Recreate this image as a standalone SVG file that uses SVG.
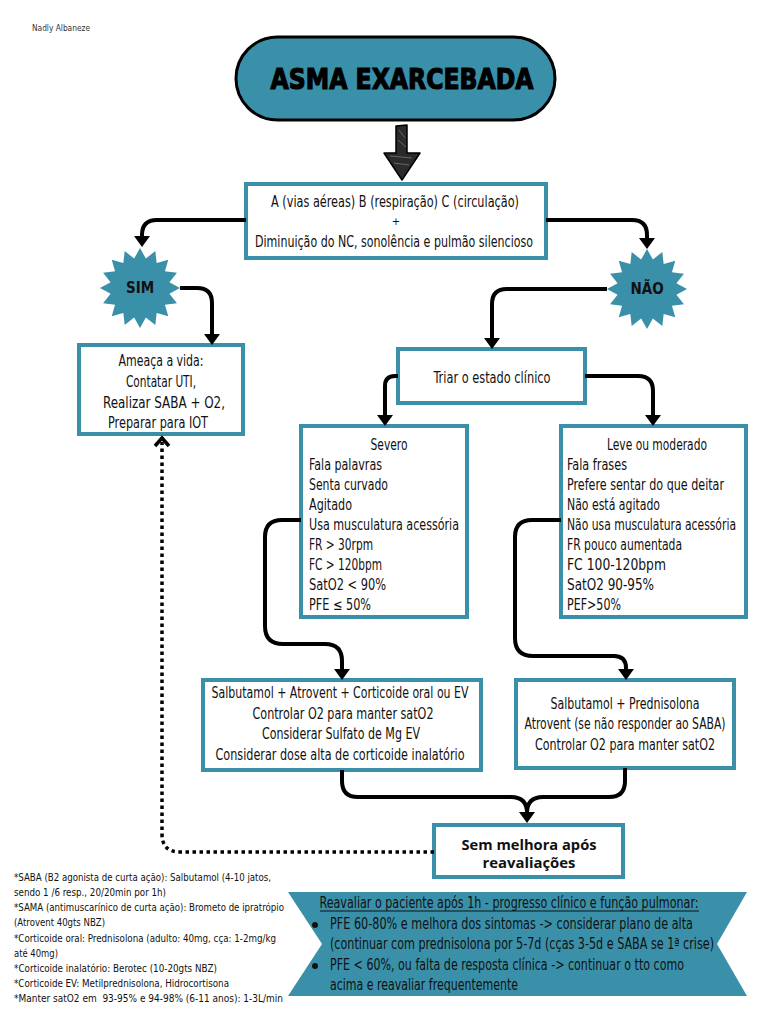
<svg xmlns="http://www.w3.org/2000/svg" width="768" height="1024" viewBox="0 0 768 1024">
<style>
.box{fill:#fff;stroke:#3a90a8;stroke-width:4}
.teal{fill:#3a90a8}
.t{font-family:'Liberation Sans Narrow','DejaVu Sans Condensed','Roboto',sans-serif;font-size:15px;fill:#111}
.m{text-anchor:middle}
.fn{font-family:'Liberation Sans Narrow','DejaVu Sans Condensed','Roboto',sans-serif;font-size:11px;fill:#111}
.b{font-family:'Open Sans','DejaVu Sans',sans-serif;font-weight:bold;font-size:14px;fill:#111;text-anchor:middle}
.conn{fill:none;stroke:#000;stroke-width:4;stroke-linejoin:round}
.dot{fill:none;stroke:#000;stroke-width:3.5;stroke-dasharray:3.5 3.5}
</style>
<defs>
<marker id="ah" viewBox="0 0 11 16" refX="8" refY="8" markerWidth="11" markerHeight="16" markerUnits="userSpaceOnUse" orient="auto">
<path d="M0,0 L11,8 L0,16 z" fill="#000"/>
</marker>
<polygon id="star" points="0,-40 5.85,-29.42 15.31,-36.96 16.67,-24.94 28.28,-28.28 24.94,-16.67 36.96,-15.31 29.42,-5.85 40,0 29.42,5.85 36.96,15.31 24.94,16.67 28.28,28.28 16.67,24.94 15.31,36.96 5.85,29.42 0,40 -5.85,29.42 -15.31,36.96 -16.67,24.94 -28.28,28.28 -24.94,16.67 -36.96,15.31 -29.42,5.85 -40,0 -29.42,-5.85 -36.96,-15.31 -24.94,-16.67 -28.28,-28.28 -16.67,-24.94 -15.31,-36.96 -5.85,-29.42"/>
</defs>
<rect width="768" height="1024" fill="#fff"/>

<text x="32" y="31" font-family="'Liberation Sans Narrow','DejaVu Sans Condensed',sans-serif" font-size="9" fill="#333" textLength="58" lengthAdjust="spacingAndGlyphs">Nadly Albaneze</text>

<g id="title">
<rect x="236" y="37" width="319" height="83" rx="41.5" class="teal" stroke="#000" stroke-width="3"/>
<text x="402" y="89" text-anchor="middle" font-family="'DejaVu Sans',sans-serif" font-weight="bold" font-size="28" textLength="263" lengthAdjust="spacingAndGlyphs" fill="#000" stroke="#000" stroke-width="1.2">ASMA EXARCEBADA</text>
</g>

<g id="downarrow">
<path d="M396,126 L407,125 L407,153 L420,153 L402,180 L384,153 L396,153 Z" fill="#2b2b2b" stroke="#000" stroke-width="1.5" stroke-linejoin="round"/>
<path d="M399,130 L405,138 M398,140 L406,147 M390,156 L412,158 M394,163 L409,165" stroke="#666" stroke-width="1" fill="none"/>
</g>

<g id="abc">
<rect x="246" y="184" width="300" height="74" class="box"/>
<text class="t m" x="395" y="207" textLength="248" lengthAdjust="spacingAndGlyphs">A (vias aéreas) B (respiração) C (circulação)</text>
<text class="t m" x="396" y="225" style="font-size:11px">+</text>
<text class="t m" x="394" y="247" textLength="278" lengthAdjust="spacingAndGlyphs">Diminuição do NC, sonolência e pulmão silencioso</text>
</g>

<g id="sim">
<use href="#star" x="140" y="288" class="teal"/>
<text x="140" y="293" text-anchor="middle" font-family="'Liberation Sans Narrow','DejaVu Sans Condensed',sans-serif" font-weight="bold" font-size="15" fill="#111">SIM</text>
</g>

<g id="nao">
<use href="#star" x="647" y="289" class="teal"/>
<text x="647" y="294" text-anchor="middle" font-family="'Liberation Sans Narrow','DejaVu Sans Condensed',sans-serif" font-weight="bold" font-size="15" fill="#111">NÃO</text>
</g>

<g id="ameaca">
<rect x="79" y="345" width="164" height="89" class="box"/>
<text class="t m" x="161" y="366" textLength="85" lengthAdjust="spacingAndGlyphs">Ameaça a vida:</text>
<text class="t m" x="161" y="387" textLength="70" lengthAdjust="spacingAndGlyphs">Contatar UTI,</text>
<text class="t m" x="164" y="408" textLength="122" lengthAdjust="spacingAndGlyphs">Realizar SABA + O2,</text>
<text class="t m" x="158" y="428" textLength="100" lengthAdjust="spacingAndGlyphs">Preparar para IOT</text>
</g>

<g id="triar">
<rect x="398" y="349" width="187" height="54" class="box"/>
<text class="t m" x="492" y="383" textLength="117" lengthAdjust="spacingAndGlyphs">Triar o estado clínico</text>
</g>

<g id="severo">
<rect x="301" y="426" width="166" height="191" class="box"/>
<text class="t m" x="389" y="450" textLength="37" lengthAdjust="spacingAndGlyphs">Severo</text>
<text class="t" x="309" y="470" textLength="73" lengthAdjust="spacingAndGlyphs">Fala palavras</text>
<text class="t" x="309" y="490" textLength="79" lengthAdjust="spacingAndGlyphs">Senta curvado</text>
<text class="t" x="309" y="510" textLength="43" lengthAdjust="spacingAndGlyphs">Agitado</text>
<text class="t" x="309" y="530" textLength="150" lengthAdjust="spacingAndGlyphs">Usa musculatura acessória</text>
<text class="t" x="309" y="550" textLength="64" lengthAdjust="spacingAndGlyphs">FR &gt; 30rpm</text>
<text class="t" x="309" y="570" textLength="73" lengthAdjust="spacingAndGlyphs">FC &gt; 120bpm</text>
<text class="t" x="309" y="590" textLength="77" lengthAdjust="spacingAndGlyphs">SatO2 &lt; 90%</text>
<text class="t" x="309" y="610" textLength="62" lengthAdjust="spacingAndGlyphs">PFE ≤ 50%</text>
</g>

<g id="leve">
<rect x="561" y="426" width="185" height="191" class="box"/>
<text class="t m" x="657" y="450" textLength="100" lengthAdjust="spacingAndGlyphs">Leve ou moderado</text>
<text class="t" x="567" y="470" textLength="60" lengthAdjust="spacingAndGlyphs">Fala frases</text>
<text class="t" x="567" y="490" textLength="157" lengthAdjust="spacingAndGlyphs">Prefere sentar do que deitar</text>
<text class="t" x="567" y="510" textLength="93" lengthAdjust="spacingAndGlyphs">Não está agitado</text>
<text class="t" x="567" y="530" textLength="169" lengthAdjust="spacingAndGlyphs">Não usa musculatura acessória</text>
<text class="t" x="567" y="550" textLength="115" lengthAdjust="spacingAndGlyphs">FR pouco aumentada</text>
<text class="t" x="567" y="570" textLength="99" lengthAdjust="spacingAndGlyphs">FC 100-120bpm</text>
<text class="t" x="567" y="590" textLength="87" lengthAdjust="spacingAndGlyphs">SatO2 90-95%</text>
<text class="t" x="567" y="610" textLength="54" lengthAdjust="spacingAndGlyphs">PEF&gt;50%</text>
</g>

<g id="trat-severo">
<rect x="203" y="680" width="278" height="90" class="box"/>
<text class="t m" x="340" y="698" textLength="257" lengthAdjust="spacingAndGlyphs">Salbutamol + Atrovent + Corticoide oral ou EV</text>
<text class="t m" x="343" y="719" textLength="181" lengthAdjust="spacingAndGlyphs">Controlar O2 para manter satO2</text>
<text class="t m" x="341" y="739" textLength="158" lengthAdjust="spacingAndGlyphs">Considerar Sulfato de Mg EV</text>
<text class="t m" x="340" y="760" textLength="249" lengthAdjust="spacingAndGlyphs">Considerar dose alta de corticoide inalatório</text>
</g>

<g id="trat-leve">
<rect x="516" y="680" width="218" height="88" class="box"/>
<text class="t m" x="625" y="709" textLength="149" lengthAdjust="spacingAndGlyphs">Salbutamol + Prednisolona</text>
<text class="t m" x="625" y="729" textLength="201" lengthAdjust="spacingAndGlyphs">Atrovent (se não responder ao SABA)</text>
<text class="t m" x="625" y="750" textLength="180" lengthAdjust="spacingAndGlyphs">Controlar O2 para manter satO2</text>
</g>

<g id="sem-melhora">
<rect x="434" y="825" width="189" height="52" class="box"/>
<text class="b" x="529" y="850" textLength="135" lengthAdjust="spacingAndGlyphs">Sem melhora após</text>
<text class="b" x="529" y="868" textLength="93" lengthAdjust="spacingAndGlyphs">reavaliações</text>
</g>

<g id="connectors">
<path class="conn" marker-end="url(#ah)" d="M246,220 H157 Q142,220 142,235 V244"/>
<path class="conn" marker-end="url(#ah)" d="M546,220 H632 Q647,220 647,235 V246"/>
<path class="conn" marker-end="url(#ah)" d="M180,288 H197 Q212,288 212,303 V342"/>
<path class="conn" marker-end="url(#ah)" d="M607,289 H507 Q492,289 492,304 V346"/>
<path class="conn" marker-end="url(#ah)" d="M398,376 H395 Q385,376 385,386 V423"/>
<path class="conn" marker-end="url(#ah)" d="M585,376 H638 Q653,376 653,391 V423"/>
<path class="conn" marker-end="url(#ah)" d="M301,520 H282 Q265,520 265,537 V626 Q265,644 283,644 H325 Q342,644 342,661 V677"/>
<path class="conn" marker-end="url(#ah)" d="M561,520 H532 Q515,520 515,537 V638 Q515,656 533,656 H614 Q626,656 626,668 V677"/>
<path class="conn" d="M342,770 V781 Q342,797 358,797 H511 Q527,797 527,813"/>
<path class="conn" marker-end="url(#ah)" d="M625,768 V781 Q625,797 609,797 H543 Q527,797 527,813 V820"/>
<path class="dot" d="M434,852 H180 Q162,852 162,834 V442"/>
<path d="M155,446 L162,438 L169,446" fill="none" stroke="#000" stroke-width="3.5"/>
</g>

<g id="footnotes">
<text class="fn" x="14" y="881" textLength="257" lengthAdjust="spacingAndGlyphs">*SABA (B2 agonista de curta ação): Salbutamol (4-10 jatos,</text>
<text class="fn" x="14" y="896" textLength="152" lengthAdjust="spacingAndGlyphs">sendo 1 /6 resp., 20/20min por 1h)</text>
<text class="fn" x="14" y="911" textLength="270" lengthAdjust="spacingAndGlyphs">*SAMA (antimuscarínico de curta ação): Brometo de ipratrópio</text>
<text class="fn" x="14" y="926" textLength="91" lengthAdjust="spacingAndGlyphs">(Atrovent 40gts NBZ)</text>
<text class="fn" x="14" y="942" textLength="262" lengthAdjust="spacingAndGlyphs">*Corticoide oral: Prednisolona (adulto: 40mg, cça: 1-2mg/kg</text>
<text class="fn" x="14" y="957" textLength="44" lengthAdjust="spacingAndGlyphs">até 40mg)</text>
<text class="fn" x="14" y="972" textLength="203" lengthAdjust="spacingAndGlyphs">*Corticoide inalatório: Berotec (10-20gts NBZ)</text>
<text class="fn" x="14" y="987" textLength="215" lengthAdjust="spacingAndGlyphs">*Corticoide EV: Metilprednisolona, Hidrocortisona</text>
<text class="fn" x="14" y="1002" xml:space="preserve" textLength="269" lengthAdjust="spacingAndGlyphs">*Manter satO2 em  93-95% e 94-98% (6-11 anos): 1-3L/min</text>
</g>

<g id="reavaliar">
<polygon class="teal" points="288,892 747,892 717,944 747,996 288,996 322,944"/>
<text class="t m" x="509" y="908" textLength="379" lengthAdjust="spacingAndGlyphs">Reavaliar o paciente após 1h - progresso clínico e função pulmonar:</text>
<line x1="320" y1="911" x2="699" y2="911" stroke="#111" stroke-width="1"/>
<circle cx="315" cy="925" r="3" fill="#111"/>
<text class="t" x="330" y="929" textLength="363" lengthAdjust="spacingAndGlyphs">PFE 60-80% e melhora dos sintomas -&gt; considerar plano de alta</text>
<text class="t" x="330" y="949" textLength="384" lengthAdjust="spacingAndGlyphs">(continuar com prednisolona por 5-7d (cças 3-5d e SABA se 1ª crise)</text>
<circle cx="315" cy="966" r="3" fill="#111"/>
<text class="t" x="330" y="970" textLength="354" lengthAdjust="spacingAndGlyphs">PFE &lt; 60%, ou falta de resposta clínica -&gt; continuar o tto como</text>
<text class="t" x="330" y="990" textLength="188" lengthAdjust="spacingAndGlyphs">acima e reavaliar frequentemente</text>
</g>
</svg>
